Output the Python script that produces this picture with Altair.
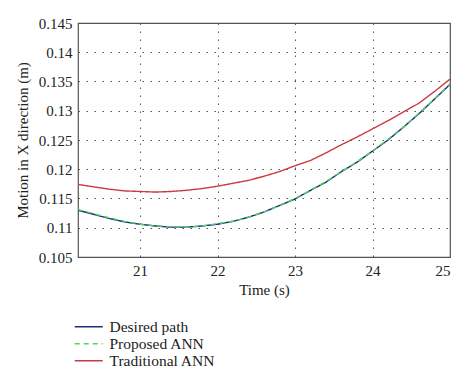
import altair as alt
import pandas as pd

time_s = [20.2, 20.4, 20.6, 20.8, 21.0, 21.2, 21.4, 21.6, 21.8, 22.0, 22.2, 22.4, 22.6,
          22.8, 23.0, 23.2, 23.4, 23.6, 23.8, 24.0, 24.2, 24.4, 24.6, 24.8, 25.0]
desired = [0.1130, 0.1123, 0.1116, 0.1110, 0.1106, 0.1103, 0.1101, 0.1101, 0.1103, 0.1106,
           0.1111, 0.1118, 0.1127, 0.1138, 0.1149, 0.1164, 0.1178, 0.1196, 0.1212, 0.1231,
           0.1250, 0.1272, 0.1295, 0.1320, 0.1345]
proposed = [0.1131, 0.1124, 0.1117, 0.1111, 0.1106, 0.1103, 0.1102, 0.1101, 0.1103, 0.1107,
            0.1111, 0.1118, 0.1127, 0.1138, 0.1150, 0.1164, 0.1179, 0.1196, 0.1213, 0.1231,
            0.1251, 0.1272, 0.1296, 0.1320, 0.1346]
traditional = [0.1174, 0.1170, 0.1166, 0.1163, 0.1162, 0.1161, 0.1162, 0.1164, 0.1167, 0.1171,
               0.1176, 0.1181, 0.1188, 0.1196, 0.1206, 0.1215, 0.1228, 0.1242, 0.1255, 0.1269,
               0.1283, 0.1298, 0.1313, 0.1333, 0.1354]

series_names = ["Desired path", "Proposed ANN", "Traditional ANN"]
series_colors = ["#232c78", "#45d860", "#cc3a44"]
series_dash = [[1, 0], [5, 4], [1, 0]]
x_ticks = [21, 22, 23, 24, 25]
y_ticks = [0.105, 0.11, 0.115, 0.12, 0.125, 0.13, 0.135, 0.14, 0.145]

rows = []
for name, vals in zip(series_names, [desired, proposed, traditional]):
    for t, v in zip(time_s, vals):
        rows.append({"t": t, "v": v, "series": name})
df = pd.DataFrame(rows)

FONT = "Liberation Serif"

chart = alt.Chart(df).mark_line(strokeWidth=1.4, clip=True).encode(
    x=alt.X("t:Q", scale=alt.Scale(domain=[20.2, 25], nice=False, zero=False),
            axis=alt.Axis(values=x_ticks, title="Time (s)", format="d")),
    y=alt.Y("v:Q", scale=alt.Scale(domain=[0.105, 0.145], nice=False, zero=False),
            axis=alt.Axis(values=y_ticks, title="Motion in X direction (m)", format="~g")),
    color=alt.Color("series:N", sort=series_names,
                    scale=alt.Scale(domain=series_names, range=series_colors),
                    legend=alt.Legend(title=None, orient="none", legendX=3, legendY=296,
                                      symbolType="M-2.8,0H2.8", symbolSize=100,
                                      symbolStrokeWidth=1.4,
                                      labelFont=FONT, labelFontSize=15.5, labelColor="#222",
                                      rowPadding=0, labelOffset=13)),
    strokeDash=alt.StrokeDash("series:N", sort=series_names,
                              scale=alt.Scale(domain=series_names, range=series_dash),
                              legend=None),
    order=alt.Order("t:Q"),
).properties(
    width=372, height=234,
    autosize=alt.AutoSizeParams(type="none"),
    padding={"left": 70, "top": 15, "right": 16, "bottom": 119},
).configure_view(
    stroke="#555", strokeWidth=1.2
).configure_axis(
    grid=True, gridColor="#555", gridDash=[1.5, 6.5], gridWidth=1,
    domain=False, ticks=False,
    labelFont=FONT, labelFontSize=15, labelColor="#222", labelPadding=6,
    titleFont=FONT, titleFontSize=15, titleColor="#222", titleFontWeight="normal",
).configure_axisY(
    titlePadding=8
).configure_axisX(
    titlePadding=4
)

chart.save("out.html", embed_options={"renderer": "svg", "actions": False})
